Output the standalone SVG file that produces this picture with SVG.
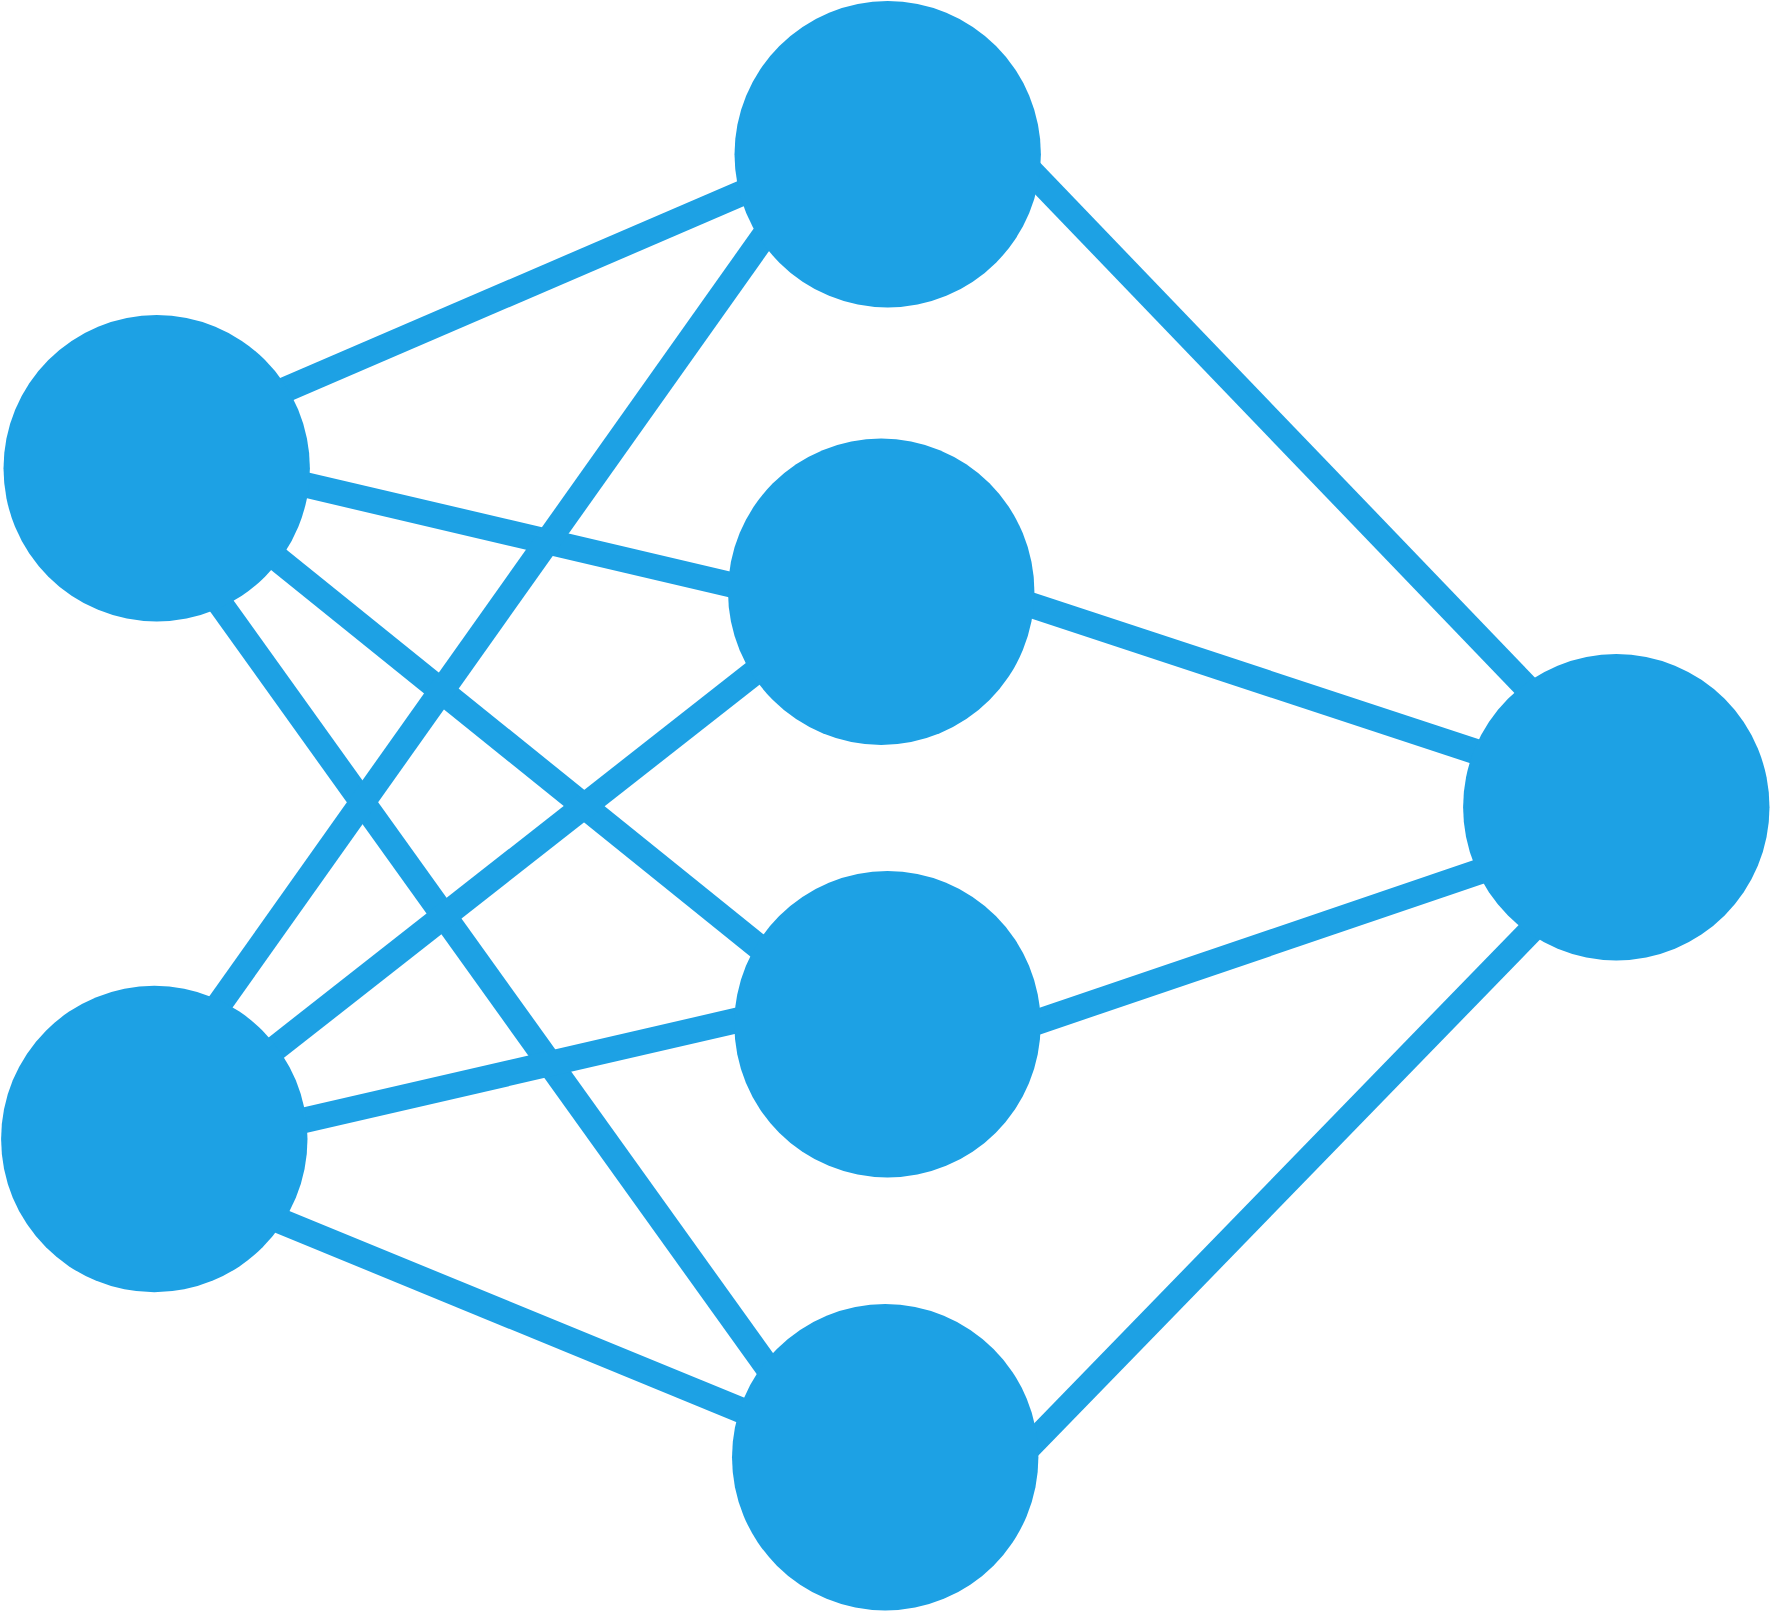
<svg xmlns="http://www.w3.org/2000/svg" width="1770" height="1611" viewBox="0 0 1770 1611">
<style>
.edge{stroke:#1da1e4;stroke-width:25.5;stroke-linecap:butt;fill:none}
.node{fill:#1da1e4}
</style>
<rect width="1770" height="1611" fill="#ffffff"/>
<g id="connectors">
<line class="edge" x1="156.7" y1="444.9" x2="887.7" y2="130.5"/>
<line class="edge" x1="156.7" y1="449.9" x2="881.2" y2="620.0"/>
<line class="edge" x1="156.7" y1="461.4" x2="887.5" y2="1050.7"/>
<line class="edge" x1="123.1" y1="468.3" x2="832.0" y2="1457.3"/>
<line class="edge" x1="123.7" y1="1139" x2="822" y2="154.3"/>
<line class="edge" x1="154.3" y1="1143.3" x2="881.2" y2="573.1"/>
<line class="edge" x1="154.3" y1="1154.9" x2="887.5" y2="985.7"/>
<line class="edge" x1="154.3" y1="1169.3" x2="885.2" y2="1469.4"/>
<line class="edge" x1="953.6" y1="91.1" x2="1629.7" y2="794.5"/>
<line class="edge" x1="881.2" y1="555.8" x2="1616.3" y2="797.9"/>
<line class="edge" x1="887.5" y1="1072.9" x2="1616.3" y2="825.1"/>
<line class="edge" x1="953.9" y1="1524.2" x2="1634" y2="824.6"/>
</g>
<g id="input1"><circle class="node" cx="156.7" cy="468.3" r="153.2"/></g>
<g id="input2"><circle class="node" cx="154.3" cy="1139" r="153.2"/></g>
<g id="hidden1"><circle class="node" cx="887.7" cy="154.3" r="153.2"/></g>
<g id="hidden2"><circle class="node" cx="881.2" cy="591.7" r="153.2"/></g>
<g id="hidden3"><circle class="node" cx="887.5" cy="1024.3" r="153.2"/></g>
<g id="hidden4"><circle class="node" cx="885.2" cy="1457.3" r="153.2"/></g>
<g id="output"><circle class="node" cx="1616.3" cy="807.2" r="153.2"/></g>
</svg>
